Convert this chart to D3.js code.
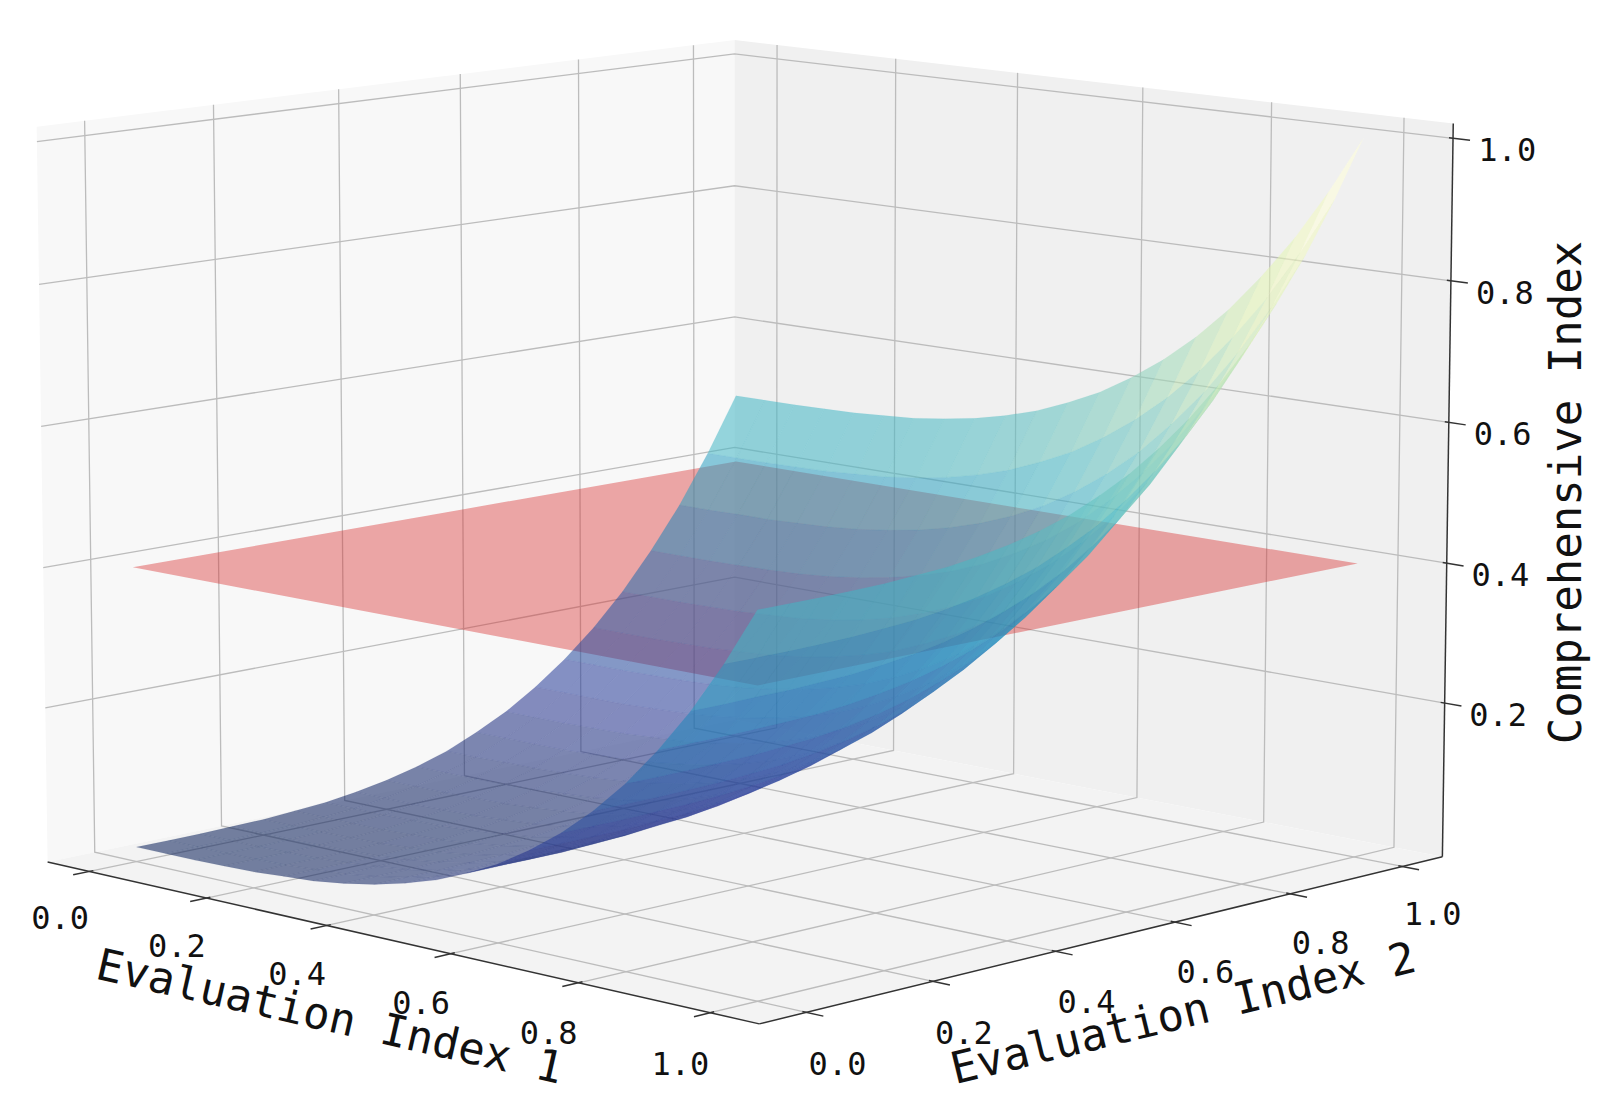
<!DOCTYPE html>
<html>
<head>
<meta charset="utf-8">
<script src="https://cdn.jsdelivr.net/npm/d3@7"></script>
<style>
  body { margin: 0; background: #fff; }
  svg text { font-family: "DejaVu Sans Mono", "Liberation Mono", monospace; fill: #111; }
</style>
</head>
<body>
<div id="chart"></div>
<script>
// ---- data ----
// grid positions along both evaluation indices
const index1 = [0, 0.05, 0.1, 0.15, 0.2, 0.25, 0.3, 0.35, 0.4, 0.45, 0.5, 0.55, 0.6, 0.65, 0.7, 0.75, 0.8, 0.85, 0.9, 0.95, 1];
const index2 = [0, 0.05, 0.1, 0.15, 0.2, 0.25, 0.3, 0.35, 0.4, 0.45, 0.5, 0.55, 0.6, 0.65, 0.7, 0.75, 0.8, 0.85, 0.9, 0.95, 1];
// comprehensive index, one row per index1 value, one column per index2 value
const comprehensive = [
  [0.000,0.000,0.000,0.001,0.002,0.005,0.008,0.014,0.022,0.033,0.047,0.066,0.088,0.116,0.149,0.188,0.234,0.288,0.349,0.420,0.500],
  [0.000,0.000,0.000,0.001,0.002,0.005,0.008,0.014,0.022,0.033,0.047,0.066,0.088,0.116,0.149,0.188,0.234,0.288,0.349,0.420,0.500],
  [0.000,0.000,0.000,0.001,0.002,0.005,0.008,0.014,0.022,0.033,0.048,0.066,0.088,0.116,0.149,0.188,0.234,0.288,0.350,0.420,0.500],
  [0.001,0.001,0.001,0.002,0.003,0.005,0.009,0.015,0.023,0.034,0.048,0.066,0.089,0.116,0.150,0.189,0.235,0.289,0.350,0.421,0.501],
  [0.002,0.002,0.002,0.003,0.004,0.007,0.010,0.016,0.024,0.035,0.050,0.068,0.090,0.118,0.151,0.190,0.236,0.290,0.352,0.422,0.502],
  [0.005,0.005,0.005,0.005,0.007,0.009,0.013,0.019,0.027,0.038,0.052,0.070,0.093,0.120,0.153,0.193,0.239,0.292,0.354,0.425,0.505],
  [0.008,0.008,0.009,0.009,0.010,0.013,0.017,0.022,0.031,0.041,0.056,0.074,0.096,0.124,0.157,0.196,0.242,0.296,0.358,0.428,0.508],
  [0.014,0.014,0.014,0.015,0.016,0.019,0.022,0.028,0.036,0.047,0.062,0.080,0.102,0.130,0.163,0.202,0.248,0.302,0.364,0.434,0.514],
  [0.022,0.022,0.022,0.023,0.024,0.027,0.031,0.036,0.044,0.055,0.070,0.088,0.110,0.138,0.171,0.210,0.256,0.310,0.372,0.442,0.522],
  [0.033,0.033,0.033,0.034,0.035,0.038,0.041,0.047,0.055,0.066,0.081,0.099,0.121,0.149,0.182,0.221,0.267,0.321,0.383,0.453,0.533],
  [0.047,0.047,0.048,0.048,0.050,0.052,0.056,0.062,0.070,0.081,0.095,0.113,0.135,0.163,0.196,0.235,0.282,0.335,0.397,0.467,0.547],
  [0.066,0.066,0.066,0.066,0.068,0.070,0.074,0.080,0.088,0.099,0.113,0.131,0.154,0.181,0.214,0.254,0.300,0.353,0.415,0.486,0.566],
  [0.088,0.088,0.088,0.089,0.090,0.093,0.096,0.102,0.110,0.121,0.135,0.154,0.176,0.204,0.237,0.276,0.322,0.376,0.437,0.508,0.588],
  [0.116,0.116,0.116,0.116,0.118,0.120,0.124,0.130,0.138,0.149,0.163,0.181,0.204,0.231,0.264,0.304,0.350,0.403,0.465,0.536,0.616],
  [0.149,0.149,0.149,0.150,0.151,0.153,0.157,0.163,0.171,0.182,0.196,0.214,0.237,0.264,0.297,0.337,0.383,0.436,0.498,0.569,0.649],
  [0.188,0.188,0.188,0.189,0.190,0.193,0.196,0.202,0.210,0.221,0.235,0.254,0.276,0.304,0.337,0.376,0.422,0.476,0.537,0.608,0.688],
  [0.234,0.234,0.234,0.235,0.236,0.239,0.242,0.248,0.256,0.267,0.282,0.300,0.322,0.350,0.383,0.422,0.468,0.522,0.584,0.654,0.734],
  [0.288,0.288,0.288,0.289,0.290,0.292,0.296,0.302,0.310,0.321,0.335,0.353,0.376,0.403,0.436,0.476,0.522,0.575,0.637,0.708,0.788],
  [0.349,0.349,0.350,0.350,0.352,0.354,0.358,0.364,0.372,0.383,0.397,0.415,0.437,0.465,0.498,0.537,0.584,0.637,0.699,0.769,0.849],
  [0.420,0.420,0.420,0.421,0.422,0.425,0.428,0.434,0.442,0.453,0.467,0.486,0.508,0.536,0.569,0.608,0.654,0.708,0.769,0.840,0.920],
  [0.500,0.500,0.500,0.501,0.502,0.505,0.508,0.514,0.522,0.533,0.547,0.566,0.588,0.616,0.649,0.688,0.734,0.788,0.849,0.920,1.000]
];
// the flat reference plane
const thresholdLevel = 0.4;
const thresholdX = [0, 1];
const thresholdY = [0, 1];

const xTicks = [0, 0.2, 0.4, 0.6, 0.8, 1.0];
const yTicks = [0, 0.2, 0.4, 0.6, 0.8, 1.0];
const zTicks = [0.2, 0.4, 0.6, 0.8, 1.0];
const xTitle = 'Evaluation Index 1';
const yTitle = 'Evaluation Index 2';
const zTitle = 'Comprehensive Index';

// YlGnBu stops, used reversed (low = navy, high = pale yellow)
const ylgnbu = ['#ffffd9', '#edf8b1', '#c7e9b4', '#7fcdbb', '#41b6c4', '#1d91c0', '#225ea8', '#253494', '#081d58'];

// ---- camera: elev 10, azim -46, perspective at distance 10 ----
const W = 1608, H = 1110;
const xLim = [-0.05, 1.05], yLim = [-0.05, 1.05], zLim = [0, 1];
const boxNorm = 1.8294640721620434 / Math.hypot(4, 4, 3);
const box = [4 * boxNorm, 4 * boxNorm, 3 * boxNorm];

const wx = d3.scaleLinear().domain(xLim).range([-box[0] / 2, box[0] / 2]);
const wy = d3.scaleLinear().domain(yLim).range([-box[1] / 2, box[1] / 2]);
const wz = d3.scaleLinear().domain(zLim).range([-box[2] / 2, box[2] / 2]);

const elev = 10 * Math.PI / 180, azim = -46 * Math.PI / 180, camDist = 10;
const ce = Math.cos(elev), se = Math.sin(elev), ca = Math.cos(azim), sa = Math.sin(azim);
const eyeDir = [ce * ca, ce * sa, se];
const right = [-sa, ca, 0];
const up = [-se * ca, -se * sa, ce];
const focal = 8350, cx = 746, cy = 495;

const dot = (a, b) => a[0] * b[0] + a[1] * b[1] + a[2] * b[2];
function proj(x, y, z) {
  const p = [wx(x), wy(y), wz(z)];
  const d = camDist - dot(eyeDir, p);
  return [cx + focal * dot(right, p) / d, cy - focal * dot(up, p) / d, d];
}

// pane extents: limits padded by range/48 like the 3d axes do
const pad = l => (l[1] - l[0]) / 48;
const xP = [xLim[0] - pad(xLim), xLim[1] + pad(xLim)];
const yP = [yLim[0] - pad(yLim), yLim[1] + pad(yLim)];
const zP = [zLim[0] - pad(zLim), zLim[1] + pad(zLim)];

const svg = d3.select('#chart').append('svg')
  .attr('width', W).attr('height', H)
  .attr('viewBox', `0 0 ${W} ${H}`)
  .style('background', '#fff');

const line = d3.line();
const path3 = pts => line(pts.map(p => proj(...p).slice(0, 2)));
const poly3 = pts => path3(pts) + 'Z';

// ---- panes ----
const gPanes = svg.append('g');
gPanes.append('path')   // left back pane (x = min)
  .attr('d', poly3([[xP[0], yP[0], zP[0]], [xP[0], yP[1], zP[0]], [xP[0], yP[1], zP[1]], [xP[0], yP[0], zP[1]]]))
  .attr('fill', '#f8f8f8');
gPanes.append('path')   // right back pane (y = max)
  .attr('d', poly3([[xP[0], yP[1], zP[0]], [xP[1], yP[1], zP[0]], [xP[1], yP[1], zP[1]], [xP[0], yP[1], zP[1]]]))
  .attr('fill', '#f0f0f0');
gPanes.append('path')   // floor
  .attr('d', poly3([[xP[0], yP[0], zP[0]], [xP[1], yP[0], zP[0]], [xP[1], yP[1], zP[0]], [xP[0], yP[1], zP[0]]]))
  .attr('fill', '#f3f3f3');

// ---- grid ----
const gridLines = [];
xTicks.forEach(t => {
  gridLines.push([[t, yP[0], zP[0]], [t, yP[1], zP[0]], [t, yP[1], zP[1]]]);
});
yTicks.forEach(t => {
  gridLines.push([[xP[1], t, zP[0]], [xP[0], t, zP[0]], [xP[0], t, zP[1]]]);
});
zTicks.forEach(t => {
  gridLines.push([[xP[0], yP[0], t], [xP[0], yP[1], t], [xP[1], yP[1], t]]);
});
svg.append('g').selectAll('path').data(gridLines).join('path')
  .attr('d', path3)
  .attr('fill', 'none')
  .attr('stroke', '#bcbcbc')
  .attr('stroke-width', 1.3);

// ---- axis lines + ticks ----
const gAxes = svg.append('g').attr('stroke', '#333').attr('stroke-width', 1.5).attr('fill', 'none');
gAxes.append('path').attr('d', path3([[xP[0], yP[0], zP[0]], [xP[1], yP[0], zP[0]]]));
gAxes.append('path').attr('d', path3([[xP[1], yP[0], zP[0]], [xP[1], yP[1], zP[0]]]));
gAxes.append('path').attr('d', path3([[xP[1], yP[1], zP[0]], [xP[1], yP[1], zP[1]]]));
xTicks.forEach(t => gAxes.append('path').attr('d', path3([[t, yP[0] + 0.006, zP[0]], [t, yP[0] - 0.025, zP[0]]])));
yTicks.forEach(t => gAxes.append('path').attr('d', path3([[xP[1] - 0.006, t, zP[0]], [xP[1] + 0.025, t, zP[0]]])));
zTicks.forEach(t => gAxes.append('path').attr('d', path3([[xP[1] - 0.006, yP[1], t], [xP[1] + 0.025, yP[1], t]])));

// ---- threshold plane ----
svg.append('path')
  .attr('d', poly3([
    [thresholdX[0], thresholdY[0], thresholdLevel], [thresholdX[1], thresholdY[0], thresholdLevel],
    [thresholdX[1], thresholdY[1], thresholdLevel], [thresholdX[0], thresholdY[1], thresholdLevel]]))
  .attr('fill', '#d62728')
  .attr('fill-opacity', 0.4);

// ---- surface: quads sorted back to front ----
const faces = [];
for (let i = 0; i < index1.length - 1; i++) {
  for (let j = 0; j < index2.length - 1; j++) {
    const corners = [[i, j], [i + 1, j], [i + 1, j + 1], [i, j + 1]]
      .map(([a, b]) => [index1[a], index2[b], comprehensive[a][b]]);
    const pts = corners.map(c => proj(...c));
    faces.push({
      pts,
      depth: d3.mean(pts, p => p[2]),
      value: d3.mean(corners, c => c[2])
    });
  }
}
faces.sort((a, b) => b.depth - a.depth);

const vExt = d3.extent(faces, f => f.value);
const color = d3.scaleLinear()
  .domain(ylgnbu.map((_, k) => vExt[0] + (vExt[1] - vExt[0]) * k / (ylgnbu.length - 1)))
  .range(ylgnbu.slice().reverse());

svg.append('g').selectAll('path').data(faces).join('path')
  .attr('d', f => line(f.pts.map(p => [p[0], p[1]])) + 'Z')
  .attr('fill', f => color(f.value))
  .attr('fill-opacity', 0.55)
  .attr('stroke', f => color(f.value))
  .attr('stroke-opacity', 0.3)
  .attr('stroke-width', 0.2)
  .attr('stroke-linejoin', 'round');

// ---- tick labels ----
const gLabels = svg.append('g').attr('font-size', 32).attr('text-anchor', 'middle').attr('dominant-baseline', 'central');
xTicks.forEach(t => {
  const p = proj(t, yP[0] - 0.046, zP[0] - 0.058);
  gLabels.append('text').attr('x', p[0]).attr('y', p[1]).text(t.toFixed(1));
});
yTicks.forEach(t => {
  const p = proj(xP[1] + 0.046, t, zP[0] - 0.06);
  gLabels.append('text').attr('x', p[0]).attr('y', p[1]).text(t.toFixed(1));
});
zTicks.forEach(t => {
  const p = proj(xP[1] + 0.044, yP[1] + 0.044, t);
  gLabels.append('text').attr('x', p[0]).attr('y', p[1] + 12).text(t.toFixed(1));
});

// ---- axis titles, rotated along the projected axis ----
const angleOf = (a, b) => Math.atan2(b[1] - a[1], b[0] - a[0]) * 180 / Math.PI;
const gTitles = svg.append('g').attr('font-size', 44).attr('text-anchor', 'middle').attr('dominant-baseline', 'central');

const xa = proj(xP[0], yP[0], zP[0]), xb = proj(xP[1], yP[0], zP[0]);
const xt = proj(0.5, yP[0] - 0.09, zP[0] - 0.087);
gTitles.append('text')
  .attr('transform', `translate(${xt[0]},${xt[1]}) rotate(${angleOf(xa, xb)})`)
  .text(xTitle);

const ya = proj(xP[1], yP[0], zP[0]), yb = proj(xP[1], yP[1], zP[0]);
const yt = proj(xP[1] + 0.1, 0.5, zP[0] - 0.085);
gTitles.append('text')
  .attr('transform', `translate(${yt[0]},${yt[1]}) rotate(${angleOf(ya, yb)})`)
  .text(yTitle);

const zt = proj(xP[1] + 0.096, yP[1] + 0.096, 0.5);
gTitles.append('text')
  .attr('transform', `translate(${zt[0]},${zt[1]}) rotate(-90)`)
  .text(zTitle);
</script>
</body>
</html>
